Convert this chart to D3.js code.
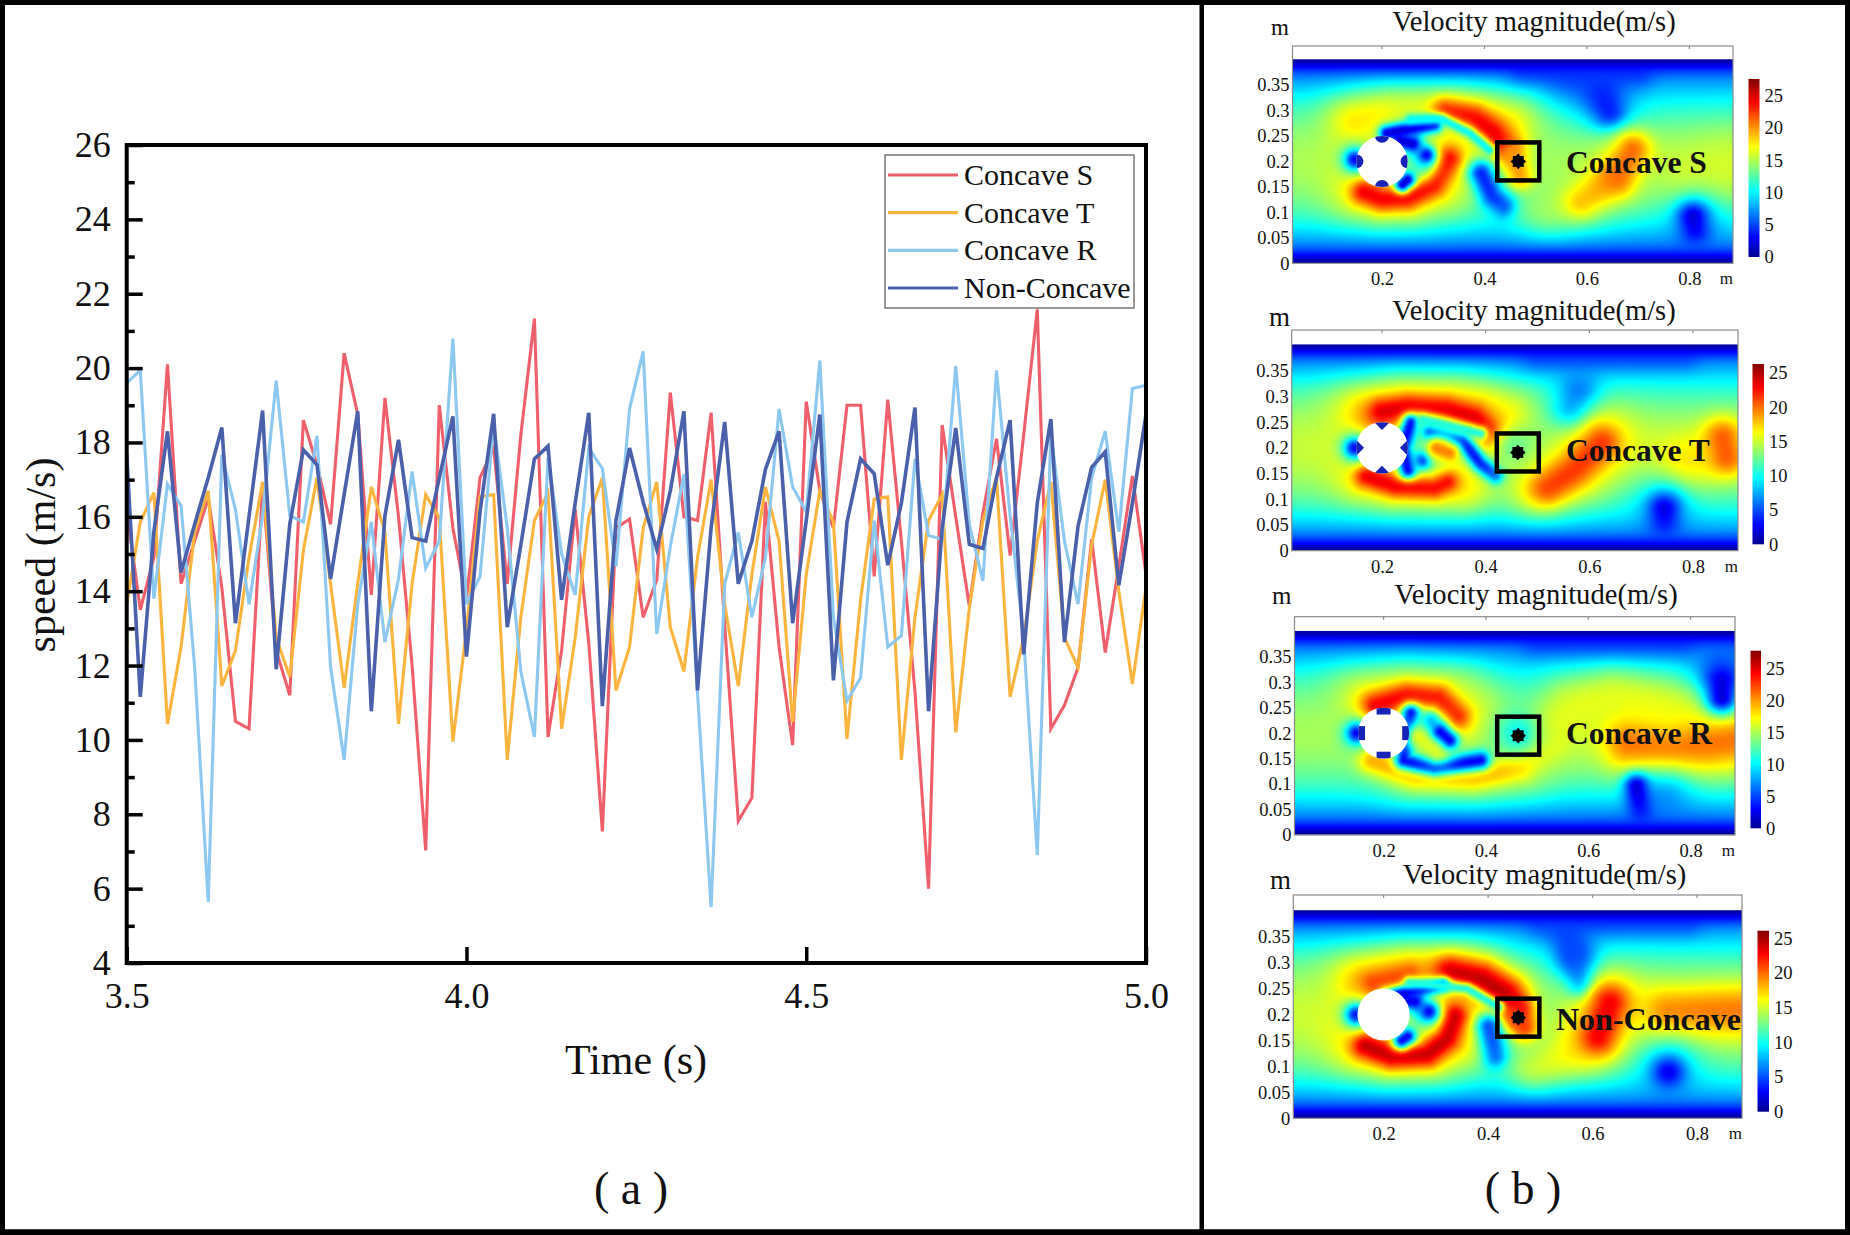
<!DOCTYPE html>
<html>
<head>
<meta charset="utf-8">
<title>Vortex shedding speed traces and velocity fields</title>
<script src="https://cdn.jsdelivr.net/npm/d3@7"></script>
<style>
  html, body { margin: 0; padding: 0; background: #fff; }
  svg { display: block; }
  text { font-family: "Liberation Serif", serif; fill: #111; }
</style>
</head>
<body>
<svg id="fig" width="1850" height="1235"></svg>
<script>
// ---- Time traces at the probe, one value every 0.02 s from 3.5 s to 5.0 s ----
const timeSeconds = d3.range(76).map(i => 3.5 + i * 0.02);

const concaveS = [16.2,13.5,14.9,20.1,14.2,15.35,16.5,14.1,10.5,10.3,16.8,12.4,11.2,18.6,17.4,15.8,20.4,18.75,13.9,19.2,16.0,12.0,7.03,19.0,15.7,13.8,17.05,17.85,14.2,
  18.2,21.33,10.08,12.4,16.2,12.6,7.54,15.7,15.94,13.3,14.3,19.34,16.0,15.9,18.8,13.1,7.82,8.44,16.4,12.5,9.86,19.1,16.7,
  15.7,19.0,19.0,14.4,19.15,15.35,11.3,6.0,18.47,16.0,13.6,16.1,18.1,14.96,18.2,21.58,10.3,10.93,11.95,15.4,12.35,14.67,17.1,14.45];

const concaveT = [13.65,15.86,16.65,10.43,12.5,15.58,16.7,11.45,12.4,14.9,16.94,12.75,11.7,15.1,17.05,14.2,11.4,14.2,16.8,15.6,10.43,14.2,16.6,15.97,9.95,12.97,16.54,16.6,9.46,
  13.3,15.9,16.65,10.3,12.75,16.0,17.05,11.33,12.5,15.7,16.94,13.03,11.84,14.9,17.0,13.65,11.45,14.45,16.8,15.35,10.48,14.45,16.7,
  15.86,10.03,13.77,16.48,16.54,9.46,13.3,15.9,16.6,10.2,13.54,15.9,17.05,11.16,12.75,15.35,16.94,12.75,11.95,15.24,17.0,14.0,11.5,14.1];

const concaveR = [19.6,19.94,13.8,16.88,16.3,11.96,5.64,17.67,16.2,13.65,16.03,19.66,16.03,15.86,18.18,11.96,9.46,13.65,15.86,12.63,14.33,17.22,14.62,15.35,20.79,13.65,14.4,18.5,15.7,
  11.84,10.08,17.6,15.0,13.9,17.85,17.3,14.67,18.9,20.45,12.85,15.2,17.15,11.26,5.5,14.2,15.58,13.3,14.9,18.9,16.8,16.14,20.2,
  13.3,11.05,11.67,15.9,12.5,12.8,17.56,15.5,15.4,20.05,15.8,14.28,19.94,16.03,12.75,6.9,18.24,15.35,13.65,17.05,18.3,15.6,19.45,19.54];

const nonConcave = [17.67,11.16,15.6,18.3,14.5,15.8,17.05,18.4,13.14,16.0,18.86,11.9,15.8,17.8,17.4,14.33,16.6,18.84,10.77,16.03,18.07,15.44,15.35,17.05,18.7,12.24,16.14,18.77,13.03,
  15.24,17.56,17.9,13.77,16.37,18.8,10.91,15.9,17.85,16.4,15.13,16.7,18.84,11.33,15.7,18.55,14.2,15.35,17.28,18.3,13.14,15.9,18.75,
  11.6,15.86,17.56,17.16,14.7,16.37,18.94,10.77,15.7,18.39,15.26,15.15,17.05,18.6,12.3,16.37,18.63,12.63,15.75,17.33,17.75,14.16,16.37,18.75];

const seriesNames = ["Concave S", "Concave T", "Concave R", "Non-Concave"];
const seriesColors = ["#ef5f6b", "#fbb53f", "#8cc8ef", "#4a60aa"];
const seriesValues = [concaveS, concaveT, concaveR, nonConcave];

const speedMajorTicks = d3.range(4, 27, 2);
const speedMinorTicks = d3.range(5, 26, 2);
const timeTicks = [3.5, 4.0, 4.5, 5.0];

// ---- Velocity fields: speed strokes painted in order over a uniform stream ----
// Each stroke: [speed m/s, half-width m, x1, y1, x2, y2, ...] in metres.
const wallStrokes = [
  [5.5, .045, 0, 0, 1, 0], [5.5, .045, 0, .402, 1, .402],
  [1.5, .016, 0, 0, 1, 0], [1.5, .016, 0, .402, 1, .402],
  [.5, .006, 0, 0, 1, 0], [.5, .006, 0, .402, 1, .402]
];
const concaveSStrokes = [
  [14.8, .09, .04,.2, .33,.2],
  [14.5, .075, .55,.2, .88,.2],
  [14, .065, .2,.33, .45,.3],
  [18, .042, .15,.285, .227,.33, .34,.33, .44,.27],
  [17.5, .05, .165,.14, .2,.125, .25,.128, .3,.155, .33,.205],
  [24.5, .02, .325,.305, .379,.29, .417,.26, .44,.23],
  [20, .02, .455,.215, .47,.17],
  [24.5, .018, .165,.14, .2,.125, .25,.128, .3,.155, .33,.205],
  [8, .02, .147,.204],
  [3, .01, .147,.204],
  [11.5, .024, .275,.2],
  [2, .011, .21,.256, .303,.273],
  [2, .013, .235,.24, .26,.235],
  [3, .012, .287,.213],
  [2, .011, .25,.164, .24,.155],
  [10.5, .008, .257,.283, .318,.283, .371,.256, .41,.223],
  [4, .018, .394,.177, .417,.131, .44,.112],
  [6, .045, .58,.37, .63,.335],
  [3.5, .022, .63,.335, .645,.296],
  [1, .022, .478,.39, .7,.385],
  [16, .05, .8,.17, .88,.19],
  [15.5, .05, .645,.164, .59,.118, .53,.08],
  [19, .024, .645,.164, .59,.118],
  [21, .026, .69,.223, .66,.17],
  [8, .04, .81,.08],
  [1.5, .02, .812,.06, .808,.09]
];
const concaveTStrokes = [
  [14.8, .09, .04,.2, .33,.2],
  [14.5, .08, .6,.2, .88,.2],
  [16, .05, .16,.28, .24,.326, .346,.32, .436,.268],
  [19.5, .032, .185,.262, .25,.28, .324,.275, .376,.258, .41,.23],
  [17, .045, .17,.145, .226,.125, .3,.122, .35,.12],
  [24, .017, .2,.272, .25,.28, .324,.275, .376,.258, .4,.235],
  [23.5, .016, .17,.145, .226,.125, .3,.122, .325,.135],
  [8, .02, .147,.2],
  [3, .01, .147,.2],
  [12, .03, .29,.2],
  [3, .012, .256,.25, .24,.2, .25,.157],
  [3, .012, .28,.177],
  [3, .012, .294,.232, .354,.215, .39,.17, .42,.147],
  [15.5, .022, .313,.197],
  [19.5, .011, .305,.2, .33,.19],
  [10.5, .01, .28,.254, .39,.228],
  [12, .03, .46,.2],
  [5.5, .03, .58,.306, .572,.275],
  [2, .022, .5,.39, .78,.39],
  [17, .05, .624,.209, .57,.157, .504,.11],
  [21.5, .024, .624,.209, .57,.157, .52,.12],
  [17.5, .04, .78,.165],
  [20.5, .028, .864,.183, .857,.22],
  [8.5, .045, .744,.08],
  [1.5, .022, .744,.05, .744,.08]
];
const concaveRStrokes = [
  [14.8, .09, .04,.2, .33,.2],
  [14.5, .08, .6,.2, .88,.2],
  [15, .05, .155,.29, .246,.324, .345,.297, .383,.245],
  [18, .036, .178,.258, .246,.275, .307,.268, .341,.232],
  [24.5, .019, .185,.255, .246,.275, .307,.268, .341,.232],
  [15, .05, .262,.1, .376,.09, .467,.12],
  [19.5, .02, .178,.147, .262,.114, .376,.108, .467,.134, .52,.186],
  [16.5, .05, .52,.193, .573,.25, .65,.28, .74,.25, .83,.225, .885,.225],
  [17.5, .05, .68,.18, .756,.167, .885,.186],
  [21, .028, .68,.18, .756,.167, .885,.186],
  [10.5, .03, .463,.2],
  [8, .02, .147,.2],
  [3, .01, .147,.2],
  [12, .03, .29,.2],
  [3, .013, .254,.239, .24,.147, .3,.134, .39,.147],
  [16.5, .02, .27,.193, .307,.167],
  [9, .012, .292,.225],
  [3, .012, .311,.203, .33,.186],
  [6, .04, .862,.33],
  [2, .022, .862,.304, .862,.27],
  [2, .022, .5,.39, .78,.39],
  [8, .04, .75,.07],
  [1.5, .018, .695,.095, .703,.042]
];
const nonConcaveStrokes = [
  [14.8, .09, .04,.2, .33,.2],
  [14.8, .08, .6,.2, .88,.2],
  [15, .05, .149,.273, .238,.312, .343,.312],
  [19, .036, .17,.26, .25,.285, .328,.286, .387,.273, .44,.24],
  [17.5, .05, .165,.14, .216,.118, .283,.122, .32,.155, .335,.196],
  [21, .014, .18,.262, .25,.28],
  [24.5, .021, .328,.286, .387,.27, .432,.24, .454,.209],
  [21.5, .02, .447,.2, .47,.175],
  [24.5, .018, .165,.14, .216,.118, .283,.122, .32,.155, .335,.196],
  [8, .02, .147,.2],
  [3.5, .01, .147,.2],
  [11.5, .024, .275,.2],
  [2.5, .01, .208,.235, .313,.257],
  [2.5, .013, .24,.228, .26,.225],
  [3, .012, .246,.158, .235,.15],
  [3, .013, .287,.206],
  [10.5, .008, .25,.262, .36,.25, .42,.215],
  [5, .018, .402,.177, .417,.119],
  [4.5, .03, .55,.36, .566,.318],
  [4.5, .02, .566,.318, .581,.26],
  [2, .022, .5,.39, .78,.39],
  [16, .04, .559,.119, .492,.08],
  [18.5, .042, .634,.222, .611,.157],
  [23, .022, .634,.222, .611,.157],
  [19.5, .034, .746,.203, .88,.209],
  [8.5, .045, .746,.09],
  [2, .022, .746,.087]
];

const heatXTicks = [0.2, 0.4, 0.6, 0.8];
const heatYTicks = [0, 0.05, 0.1, 0.15, 0.2, 0.25, 0.3, 0.35];
const barTicks = [0, 5, 10, 15, 20, 25];
const jetStops = ["#00008f", "#0000ff", "#00ffff", "#ffff00", "#ff0000", "#800000"];
const jetDomain = [0, .11, .37, .62, .87, 1];

// Screen layout of the four field panels on the right-hand side.
const panels = [
  { label: "Concave S", strokes: concaveSStrokes, notch: "round", vmax: 27.6,
    left: 1292.5, right: 1733, frameTop: 46, heatTop: 59, bottom: 263.3,
    x02: 1382, x08: 1689.4, y035: 85,
    bar: [1748.5, 1759.5, 79, 257], titleX: 1534, titleY: 31, mX: 1271, mY: 35, mSize: 23,
    probe: [.466, .2], tagX: 1566, tagY: 173 },
  { label: "Concave T", strokes: concaveTStrokes, notch: "tri", vmax: 26.3,
    left: 1291.7, right: 1738, frameTop: 330, heatTop: 344.3, bottom: 550.7,
    x02: 1382, x08: 1693, y035: 370.7,
    bar: [1752.5, 1764, 364, 544.3], titleX: 1534, titleY: 320, mX: 1269, mY: 326, mSize: 27,
    probe: [.462, .191], tagX: 1566, tagY: 461 },
  { label: "Concave R", strokes: concaveRStrokes, notch: "square", vmax: 27.8,
    left: 1294.5, right: 1735, frameTop: 616.7, heatTop: 630.7, bottom: 835,
    x02: 1383.6, x08: 1690.6, y035: 656.7,
    bar: [1750.5, 1761, 650.7, 828.3], titleX: 1536, titleY: 604, mX: 1272, mY: 604, mSize: 25,
    probe: [.463, .195], tagX: 1566, tagY: 744 },
  { label: "Non-Concave", strokes: nonConcaveStrokes, notch: "none", vmax: 26.1,
    left: 1293.3, right: 1742, frameTop: 895, heatTop: 910, bottom: 1118.3,
    x02: 1383.6, x08: 1697, y035: 936.7,
    bar: [1757.5, 1769, 930.7, 1111.7], titleX: 1544.6, titleY: 884, mX: 1270, mY: 889, mSize: 27,
    probe: [.458, .194], tagX: 1556, tagY: 1030 }
];

const svg = d3.select("#fig");

// Outer frame and divider between panels (a) and (b).
svg.append("rect").attr("width", 1850).attr("height", 1235).attr("fill", "#fff");
svg.append("rect").attr("x", 2.5).attr("y", 2.5).attr("width", 1845).attr("height", 1229.5)
  .attr("fill", "none").attr("stroke", "#000").attr("stroke-width", 5);
svg.append("rect").attr("x", 0).attr("y", 1229.5).attr("width", 1850).attr("height", 5.5).attr("fill", "#000");
svg.append("rect").attr("x", 1199.5).attr("y", 0).attr("width", 4.5).attr("height", 1235).attr("fill", "#000");

// ---- Panel (a): line chart ----
const chart = { left: 126.7, right: 1146, top: 145, bottom: 963 };
const xTime = d3.scaleLinear().domain([3.5, 5.0]).range([chart.left, chart.right]);
const ySpeed = d3.scaleLinear().domain([4, 26]).range([chart.bottom, chart.top]);

const chartG = svg.append("g");
const clipId = "plot-clip";
chartG.append("clipPath").attr("id", clipId).append("rect")
  .attr("x", chart.left).attr("y", chart.top)
  .attr("width", chart.right - chart.left).attr("height", chart.bottom - chart.top);

const traceLine = d3.line()
  .x((v, i) => xTime(timeSeconds[i]))
  .y(v => ySpeed(v));

chartG.append("g").attr("clip-path", `url(#${clipId})`)
  .selectAll("path").data(seriesValues).join("path")
  .attr("d", traceLine)
  .attr("fill", "none")
  .attr("stroke", (d, i) => seriesColors[i])
  .attr("stroke-width", (d, i) => i === 3 ? 3.6 : 3.1)
  .attr("stroke-linejoin", "miter");

const yAxis = d3.axisLeft(ySpeed).tickValues(speedMajorTicks).tickSize(-16).tickPadding(16).tickSizeOuter(0);
const yMinor = d3.axisLeft(ySpeed).tickValues(speedMinorTicks).tickSize(-8).tickFormat("").tickSizeOuter(0);
const xAxis = d3.axisBottom(xTime).tickValues(timeTicks).tickSize(-16).tickPadding(19)
  .tickFormat(d3.format(".1f")).tickSizeOuter(0);

function styleAxis(g) {
  g.select(".domain").remove();
  g.selectAll("line").attr("stroke", "#000").attr("stroke-width", 3.5);
  g.selectAll("text").style("font-size", "36px").attr("fill", "#111");
}
chartG.append("g").attr("transform", `translate(${chart.left},0)`).call(yAxis).call(styleAxis);
chartG.append("g").attr("transform", `translate(${chart.left},0)`).call(yMinor).call(styleAxis);
chartG.append("g").attr("transform", `translate(0,${chart.bottom})`).call(xAxis).call(styleAxis);

chartG.append("rect")
  .attr("x", chart.left).attr("y", chart.top)
  .attr("width", chart.right - chart.left).attr("height", chart.bottom - chart.top)
  .attr("fill", "none").attr("stroke", "#000").attr("stroke-width", 4);

chartG.append("text").attr("x", 636).attr("y", 1074).attr("text-anchor", "middle")
  .style("font-size", "42px").text("Time (s)");
chartG.append("text").attr("transform", "translate(55,555) rotate(-90)").attr("text-anchor", "middle")
  .style("font-size", "42px").text("speed (m/s)");

// Legend box
const legend = chartG.append("g");
legend.append("rect").attr("x", 885).attr("y", 155).attr("width", 249).attr("height", 153)
  .attr("fill", "#fff").attr("stroke", "#777").attr("stroke-width", 1.5);
const legendRow = d3.scalePoint().domain(seriesNames).range([175, 288]);
const legendRows = legend.selectAll("g").data(seriesNames).join("g")
  .attr("transform", d => `translate(0,${legendRow(d)})`);
legendRows.append("line").attr("x1", 888).attr("x2", 958)
  .attr("stroke", (d, i) => seriesColors[i]).attr("stroke-width", 3.2);
legendRows.append("text").attr("x", 964).attr("y", 10).style("font-size", "30px").text(d => d);

// ---- Panel (b): velocity magnitude fields ----
function segmentDistance(px, py, ax, ay, bx, by) {
  const dx = bx - ax, dy = by - ay;
  const len = dx * dx + dy * dy;
  let t = len > 0 ? ((px - ax) * dx + (py - ay) * dy) / len : 0;
  t = Math.max(0, Math.min(1, t));
  const qx = ax + t * dx - px, qy = ay + t * dy - py;
  return qx * qx + qy * qy;
}
function strokeDistance(s, px, py) {
  if (s.length === 4) return segmentDistance(px, py, s[2], s[3], s[2], s[3]);
  let best = Infinity;
  for (let k = 2; k + 3 < s.length; k += 2) {
    const d = segmentDistance(px, py, s[k], s[k + 1], s[k + 2], s[k + 3]);
    if (d < best) best = d;
  }
  return best;
}
function paintField(px, py, strokes) {
  let v = 10;
  for (const list of [strokes, wallStrokes]) {
    for (const s of list) {
      const a = Math.exp(-strokeDistance(s, px, py) / (2 * s[1] * s[1]));
      v = v * (1 - a) + s[0] * a;
    }
  }
  return v;
}

panels.forEach((p, idx) => {
  const g = svg.append("g");
  const x = d3.scaleLinear().domain([0.2, 0.8]).range([p.x02, p.x08]);
  const y = d3.scaleLinear().domain([0, 0.35]).range([p.bottom, p.y035]);
  const color = d3.scaleLinear().domain(jetDomain.map(t => t * p.vmax)).range(jetStops).clamp(true);

  // Rasterise the field into an offscreen canvas, one sample per screen pixel.
  const w = Math.round(p.right - p.left), h = Math.round(p.bottom - p.heatTop);
  const canvas = document.createElement("canvas");
  canvas.width = w; canvas.height = h;
  const ctx = canvas.getContext("2d");
  const img = ctx.createImageData(w, h);
  for (let j = 0; j < h; j++) {
    const my = y.invert(p.heatTop + j + .5);
    for (let i = 0; i < w; i++) {
      const mx = x.invert(p.left + i + .5);
      const c = d3.rgb(color(paintField(mx, my, p.strokes)));
      const o = (j * w + i) * 4;
      img.data[o] = c.r; img.data[o + 1] = c.g; img.data[o + 2] = c.b; img.data[o + 3] = 255;
    }
  }
  ctx.putImageData(img, 0, 0);
  g.append("image").attr("href", canvas.toDataURL())
    .attr("x", p.left).attr("y", p.heatTop).attr("width", p.right - p.left).attr("height", p.bottom - p.heatTop);

  // Cylinder section with its notches, kept inside the section outline.
  const rx = x(0.2 + 0.05) - x(0.2), ry = y(0.2) - y(0.2 + 0.05);
  const bodyClip = "body-clip-" + idx;
  const body = g.append("g").attr("transform", `translate(${x(0.2)},${y(0.2)})`);
  body.append("clipPath").attr("id", bodyClip).append("ellipse").attr("rx", rx).attr("ry", ry);
  body.append("ellipse").attr("rx", rx).attr("ry", ry).attr("fill", "#fff");
  const notchAngles = [0, 90, 180, 270];
  if (p.notch !== "none") {
    const nb = body.append("g").attr("clip-path", `url(#${bodyClip})`)
      .selectAll("g").data(notchAngles).join("g")
      .attr("transform", d => `rotate(${d}) translate(0,${-rx})`);
    if (p.notch === "round") nb.append("circle").attr("r", 7).attr("fill", "#1622b8");
    if (p.notch === "tri") nb.append("path").attr("d", "M-11,-3L11,-3L0,8Z").attr("fill", "#1622b8");
    if (p.notch === "square") nb.append("rect").attr("x", -7).attr("y", -3).attr("width", 14).attr("height", 10).attr("fill", "#1622b8");
  }

  // Plot frame and small inward ticks.
  const frame = g.append("g").attr("stroke", "#8a8a8a").attr("stroke-width", 1.2).attr("fill", "none");
  frame.append("rect").attr("x", p.left).attr("y", p.frameTop)
    .attr("width", p.right - p.left).attr("height", p.bottom - p.frameTop);
  frame.selectAll("line.t").data(heatXTicks).join("line").attr("class", "t")
    .attr("x1", d => x(d)).attr("x2", d => x(d)).attr("y1", p.frameTop).attr("y2", p.frameTop + 3);

  const xax = d3.axisBottom(x).tickValues(heatXTicks).tickSize(0).tickPadding(9).tickFormat(d3.format(".1f"));
  const yax = d3.axisLeft(y).tickValues(heatYTicks).tickSize(0).tickPadding(3).tickFormat(d => d === 0 ? "0" : String(d));
  const styleSmall = a => {
    a.select(".domain").remove();
    a.selectAll("text").style("font-size", "18.5px").attr("fill", "#222");
  };
  g.append("g").attr("transform", `translate(0,${p.bottom})`).call(xax).call(styleSmall);
  g.append("g").attr("transform", `translate(${p.left},0)`).call(yax).call(styleSmall);

  // Colour bar
  const barId = "bar-" + idx;
  const grad = svg.append("linearGradient").attr("id", barId).attr("x1", 0).attr("x2", 0).attr("y1", 1).attr("y2", 0);
  grad.selectAll("stop").data(jetDomain).join("stop")
    .attr("offset", d => d).attr("stop-color", (d, i) => jetStops[i]);
  const [bx0, bx1, by0, by1] = p.bar;
  g.append("rect").attr("x", bx0).attr("y", by0).attr("width", bx1 - bx0).attr("height", by1 - by0)
    .attr("fill", `url(#${barId})`);
  const barScale = d3.scaleLinear().domain([0, p.vmax]).range([by1, by0]);
  const bax = d3.axisRight(barScale).tickValues(barTicks).tickSize(0).tickPadding(5);
  g.append("g").attr("transform", `translate(${bx1},0)`).call(bax).call(styleSmall);

  // Titles and unit marks
  g.append("text").attr("x", p.titleX).attr("y", p.titleY).attr("text-anchor", "middle")
    .style("font-size", "28.6px").text("Velocity magnitude(m/s)");
  g.append("text").attr("x", p.mX).attr("y", p.mY).style("font-size", p.mSize + "px").text("m");
  g.append("text").attr("x", p.right).attr("y", p.bottom + 21).attr("text-anchor", "end")
    .style("font-size", "17px").text("m");

  // Probe marker and case tag
  const probe = g.append("g").attr("transform", `translate(${x(p.probe[0])},${y(p.probe[1])})`);
  probe.append("rect").attr("x", -21).attr("y", -19).attr("width", 42).attr("height", 38)
    .attr("fill", "none").attr("stroke", "#000").attr("stroke-width", 4.5);
  const gear = d3.lineRadial().angle((d, i) => i * Math.PI / 8).radius(d => d).curve(d3.curveLinearClosed);
  probe.append("path").attr("d", gear(d3.range(16).map(i => i % 2 ? 5.8 : 7.8))).attr("fill", "#000");
  g.append("text").attr("x", p.tagX).attr("y", p.tagY)
    .style("font-size", p.notch === "none" ? "32px" : "31.5px").style("font-weight", "bold").attr("fill", "#000").text(p.label);
});

// Panel captions
svg.append("text").attr("x", 631).attr("y", 1204).attr("text-anchor", "middle").style("font-size", "46px").text("( a )");
svg.append("text").attr("x", 1523).attr("y", 1204).attr("text-anchor", "middle").style("font-size", "46px").text("( b )");
</script>
</body>
</html>
